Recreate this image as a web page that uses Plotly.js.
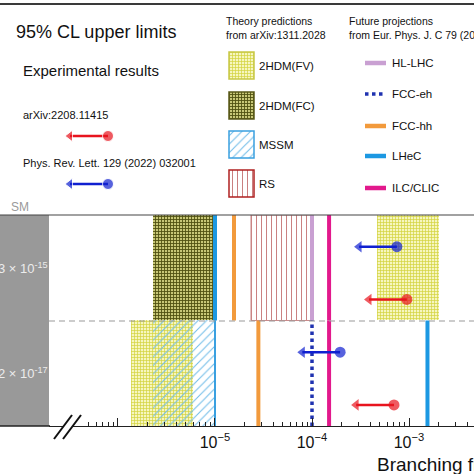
<!DOCTYPE html>
<html>
<head>
<meta charset="utf-8">
<script src="https://cdn.plot.ly/plotly-3.0.1.min.js"></script>
<style>html,body{margin:0;padding:0;background:#fff}#chart{width:474px;height:474px}</style>
</head>
<body>
<div id="chart"></div>
<script>
// row 0 = t->uH (lower row), row 1 = t->cH (upper row)
const smText = ['2 × 10<sup>-17</sup>', '3 × 10<sup>-15</sup>'];

// theory predictions from arXiv:1311.2028 (branching fraction ranges)
const fvLow = [1.36e-6, 4.7e-4];
const fvHigh = [5.9e-6, 2.05e-3];
const fcLow = [null, 2.3e-6];
const fcHigh = [null, 1.0e-5];
const mssmLow = [2.3e-6, 2.3e-6];
const mssmHigh = [1.0e-5, 1.0e-5];
const rsLow = [null, 2.35e-5];
const rsHigh = [null, 1.0e-4];

// future projections
const hlLhc = [null, 1.0e-4];
const fccEh = [1.0e-4, null];
const fccHh = [2.8e-5, 1.57e-5];
const lhec = [1.55e-3, 1.0e-5];
const ilcClic = [1.5e-4, 1.5e-4];

// experimental 95% CL limits
const limArxiv = [7.0e-4, 9.5e-4];   // arXiv:2208.11415
const limPrl = [1.95e-4, 7.5e-4];    // PRL 129 (2022) 032001

const majorTicks = [1e-6, 1e-5, 1e-4, 1e-3, 1e-2];
const majorText = ['', '10<sup>−5</sup>', '10<sup>−4</sup>', '10<sup>−3</sup>', '10<sup>−2</sup>'];

const FONT = 'Liberation Sans, Arial, Helvetica, sans-serif';
const C = {
  fv: '#d2d23c', fc: '#4f5010', mssm: '#3aa0e0', rs: '#b83a3a',
  hl: '#c9a0d2', eh: '#1f32b0', hh: '#f29a3c', lhec: '#1c98e2', ilc: '#e2198c',
  red: '#e8141e', blue: '#1020d0'
};

let minorTicks = [];
for (let k = -7; k <= -3; k++) {
  for (let m = 2; m <= 9; m++) {
    const v = m * Math.pow(10, k);
    if (v >= 4.9e-7) minorTicks.push(v);
  }
}

function band(lo, hi, marker) {
  const ys = [], xs = [], bs = [];
  lo.forEach((v, i) => {
    if (v !== null) { ys.push(i + 0.5); bs.push(v); xs.push(hi[i] - v); }
  });
  return { type: 'bar', orientation: 'h', y: ys, x: xs, base: bs, width: 1,
    marker: marker, hoverinfo: 'skip', showlegend: false };
}

function vline(vals, color, width, dash) {
  const xs = [], ys = [];
  vals.forEach((v, i) => {
    if (v !== null) { xs.push(v, v, null); ys.push(i, i + 1, null); }
  });
  return { type: 'scatter', mode: 'lines', x: xs, y: ys,
    line: { color: color, width: width, dash: dash || 'solid' },
    hoverinfo: 'skip', showlegend: false };
}

function limits(vals, offset, color) {
  return vals.map((v, i) => ({
    type: 'scatter', mode: 'lines+markers',
    x: [v / Math.pow(10, 0.39), v], y: [i + offset, i + offset],
    line: { color: color, width: 2.5 },
    marker: { symbol: ['triangle-left', 'circle'], size: [10, 11], color: color, line: { width: 0 } },
    hoverinfo: 'skip', showlegend: false
  }));
}

const fvMarker = { color: '#eeee9a', line: { width: 0 },
  pattern: { shape: '+', fgcolor: C.fv, bgcolor: '#f6f6c0', size: 3, solidity: 0.4 } };
const fcMarker = { color: '#c8c878', line: { width: 0 },
  pattern: { shape: '+', fgcolor: C.fc, bgcolor: '#c8c878', size: 3, solidity: 0.5 } };
const mssmMarker = { color: 'rgba(0,0,0,0)', line: { width: 0 },
  pattern: { shape: '/', fgcolor: '#72bde8', bgcolor: 'rgba(0,0,0,0)', size: 6, solidity: 0.18 } };
const rsMarker = { color: 'rgba(255,255,255,0)', line: { width: 1, color: '#c98a8a' },
  pattern: { shape: '|', fgcolor: '#c98080', bgcolor: 'rgba(0,0,0,0)', size: 5, solidity: 0.2 } };

const traces = [
  band(fvLow, fvHigh, fvMarker),
  band(mssmLow, mssmHigh, mssmMarker),
  band(fcLow, fcHigh, fcMarker),
  band(rsLow, rsHigh, rsMarker),
  vline(mssmHigh, C.mssm, 2),
  vline(fccHh, C.hh, 4),
  vline(lhec, C.lhec, 4),
  vline(hlLhc, C.hl, 4),
  vline(fccEh, C.eh, 3.5, 'dot'),
  vline(ilcClic, C.ilc, 4),
  ...limits(limPrl, 0.7, C.blue),
  ...limits(limArxiv, 0.2, C.red)
];

// legend swatches in a pixel-coordinate overlay (x2/y2)
const swatchTop = [52, 92, 131, 170];
const swatchMarkers = [
  Object.assign({}, fvMarker, { line: { width: 1.5, color: '#c8c846' } }),
  Object.assign({}, fcMarker, { line: { width: 1.5, color: '#5a5a18' } }),
  Object.assign({}, mssmMarker, { line: { width: 1.5, color: C.mssm } }),
  Object.assign({}, rsMarker, { line: { width: 1.5, color: '#b02020' } })
];
swatchMarkers.forEach((m, i) => {
  traces.push({ type: 'bar', x: [241.5], y: [27], base: [swatchTop[i]], width: 25,
    marker: m, xaxis: 'x2', yaxis: 'y2', hoverinfo: 'skip', showlegend: false });
});
[[136, C.red], [184, C.blue]].forEach(([yy, col]) => {
  traces.push({ type: 'scatter', mode: 'lines+markers', x: [70, 108], y: [yy, yy],
    line: { color: col, width: 2.5 },
    marker: { symbol: ['triangle-left', 'circle'], size: [10, 11], color: col },
    xaxis: 'x2', yaxis: 'y2', hoverinfo: 'skip', showlegend: false });
});

const shapes = [];
function pl(x0, y0, x1, y1, color, width, dash, layer) {
  shapes.push({ type: 'line', xref: 'x2', yref: 'y2', x0, y0, x1, y1,
    line: { color, width, dash: dash || 'solid' }, layer: layer || 'above' });
}
shapes.push({ type: 'rect', xref: 'x2', yref: 'y2', x0: 0, x1: 49, y0: 215, y1: 426,
  fillcolor: '#999999', line: { width: 0 }, layer: 'below' });
pl(0, 4, 474, 4, '#3a3a3a', 2);
pl(0, 215, 474, 215, '#444', 1.2);
pl(49, 321, 474, 321, '#9a9a9a', 1.2, '6px,4px');
pl(0, 426, 50, 426, '#222', 1.5);
shapes.push({ type: 'rect', xref: 'x2', yref: 'y2', x0: 64, x1: 73, y0: 423, y1: 429,
  fillcolor: '#fff', line: { width: 0 }, layer: 'above' });
pl(54, 439, 72, 415, '#111', 2);
pl(63, 439, 81, 415, '#111', 2);
// projection legend lines
const projY = [63, 94, 126, 156, 188];
const projCol = [C.hl, C.eh, C.hh, C.lhec, C.ilc];
projY.forEach((yy, i) => {
  pl(365, yy, 386, yy, projCol[i], i === 1 ? 3.5 : 4.5, i === 1 ? 'dot' : 'solid');
});

const annotations = [];
function txt(x, y, text, size, opts) {
  annotations.push(Object.assign({ xref: 'x2', yref: 'y2', x, y, text, showarrow: false,
    xanchor: 'left', yanchor: 'middle', font: { family: FONT, size, color: '#111' } }, opts || {}));
}
txt(14, 32, '95% CL upper limits', 18);
txt(21, 70, 'Experimental results', 15);
txt(21, 115, 'arXiv:2208.11415', 11);
txt(21, 163, 'Phys. Rev. Lett. 129 (2022) 032001', 11);
txt(224, 21, 'Theory predictions', 10.5);
txt(224, 35, 'from arXiv:1311.2028', 10.5);
txt(347, 21, 'Future projections', 10.5);
txt(347, 35, 'from Eur. Phys. J. C 79 (2019) 1132', 10.5);
['2HDM(FV)', '2HDM(FC)', 'MSSM', 'RS'].forEach((t, i) => txt(257, swatchTop[i] + 14, t, 11.5));
['HL-LHC', 'FCC-eh', 'FCC-hh', 'LHeC', 'ILC/CLIC'].forEach((t, i) => txt(390, projY[i], t, 11.5));
txt(9, 207, 'SM', 12, { font: { family: FONT, size: 12, color: '#9a9a9a' } });
txt(1, 268, smText[1], 13, { xshift: -5, font: { family: FONT, size: 13, color: '#ececec' } });
txt(1, 373, smText[0], 13, { xshift: -5, font: { family: FONT, size: 13, color: '#ececec' } });
txt(375, 464, 'Branching fraction', 19);

const layout = {
  width: 474, height: 474,
  margin: { l: 0, r: 0, t: 0, b: 0, pad: 0 },
  paper_bgcolor: '#fff', plot_bgcolor: 'rgba(0,0,0,0)',
  barmode: 'overlay', bargap: 0,
  showlegend: false,
  font: { family: FONT, color: '#111' },
  xaxis: {
    type: 'log', range: [-6.711, -2.33], domain: [0.1034, 1],
    showline: true, linecolor: '#222', linewidth: 1.5,
    showgrid: false, zeroline: false,
    ticks: 'inside', ticklen: 8, tickwidth: 1, tickcolor: '#222',
    tickmode: 'array', tickvals: majorTicks, ticktext: majorText,
    tickfont: { family: FONT, size: 16, color: '#111' }, ticklabelstandoff: 1,
    minor: { tickmode: 'array', tickvals: minorTicks, ticks: 'inside', ticklen: 4, tickwidth: 1, tickcolor: '#222', showgrid: false },
    fixedrange: true
  },
  yaxis: { range: [0, 2], domain: [0.1013, 0.5464], visible: false, fixedrange: true },
  xaxis2: { range: [0, 474], domain: [0, 1], anchor: 'y2', visible: false, fixedrange: true },
  yaxis2: { range: [474, 0], domain: [0, 1], anchor: 'x2', visible: false, fixedrange: true },
  shapes: shapes,
  annotations: annotations
};

Plotly.newPlot('chart', traces, layout, { staticPlot: true });
</script>
</body>
</html>
